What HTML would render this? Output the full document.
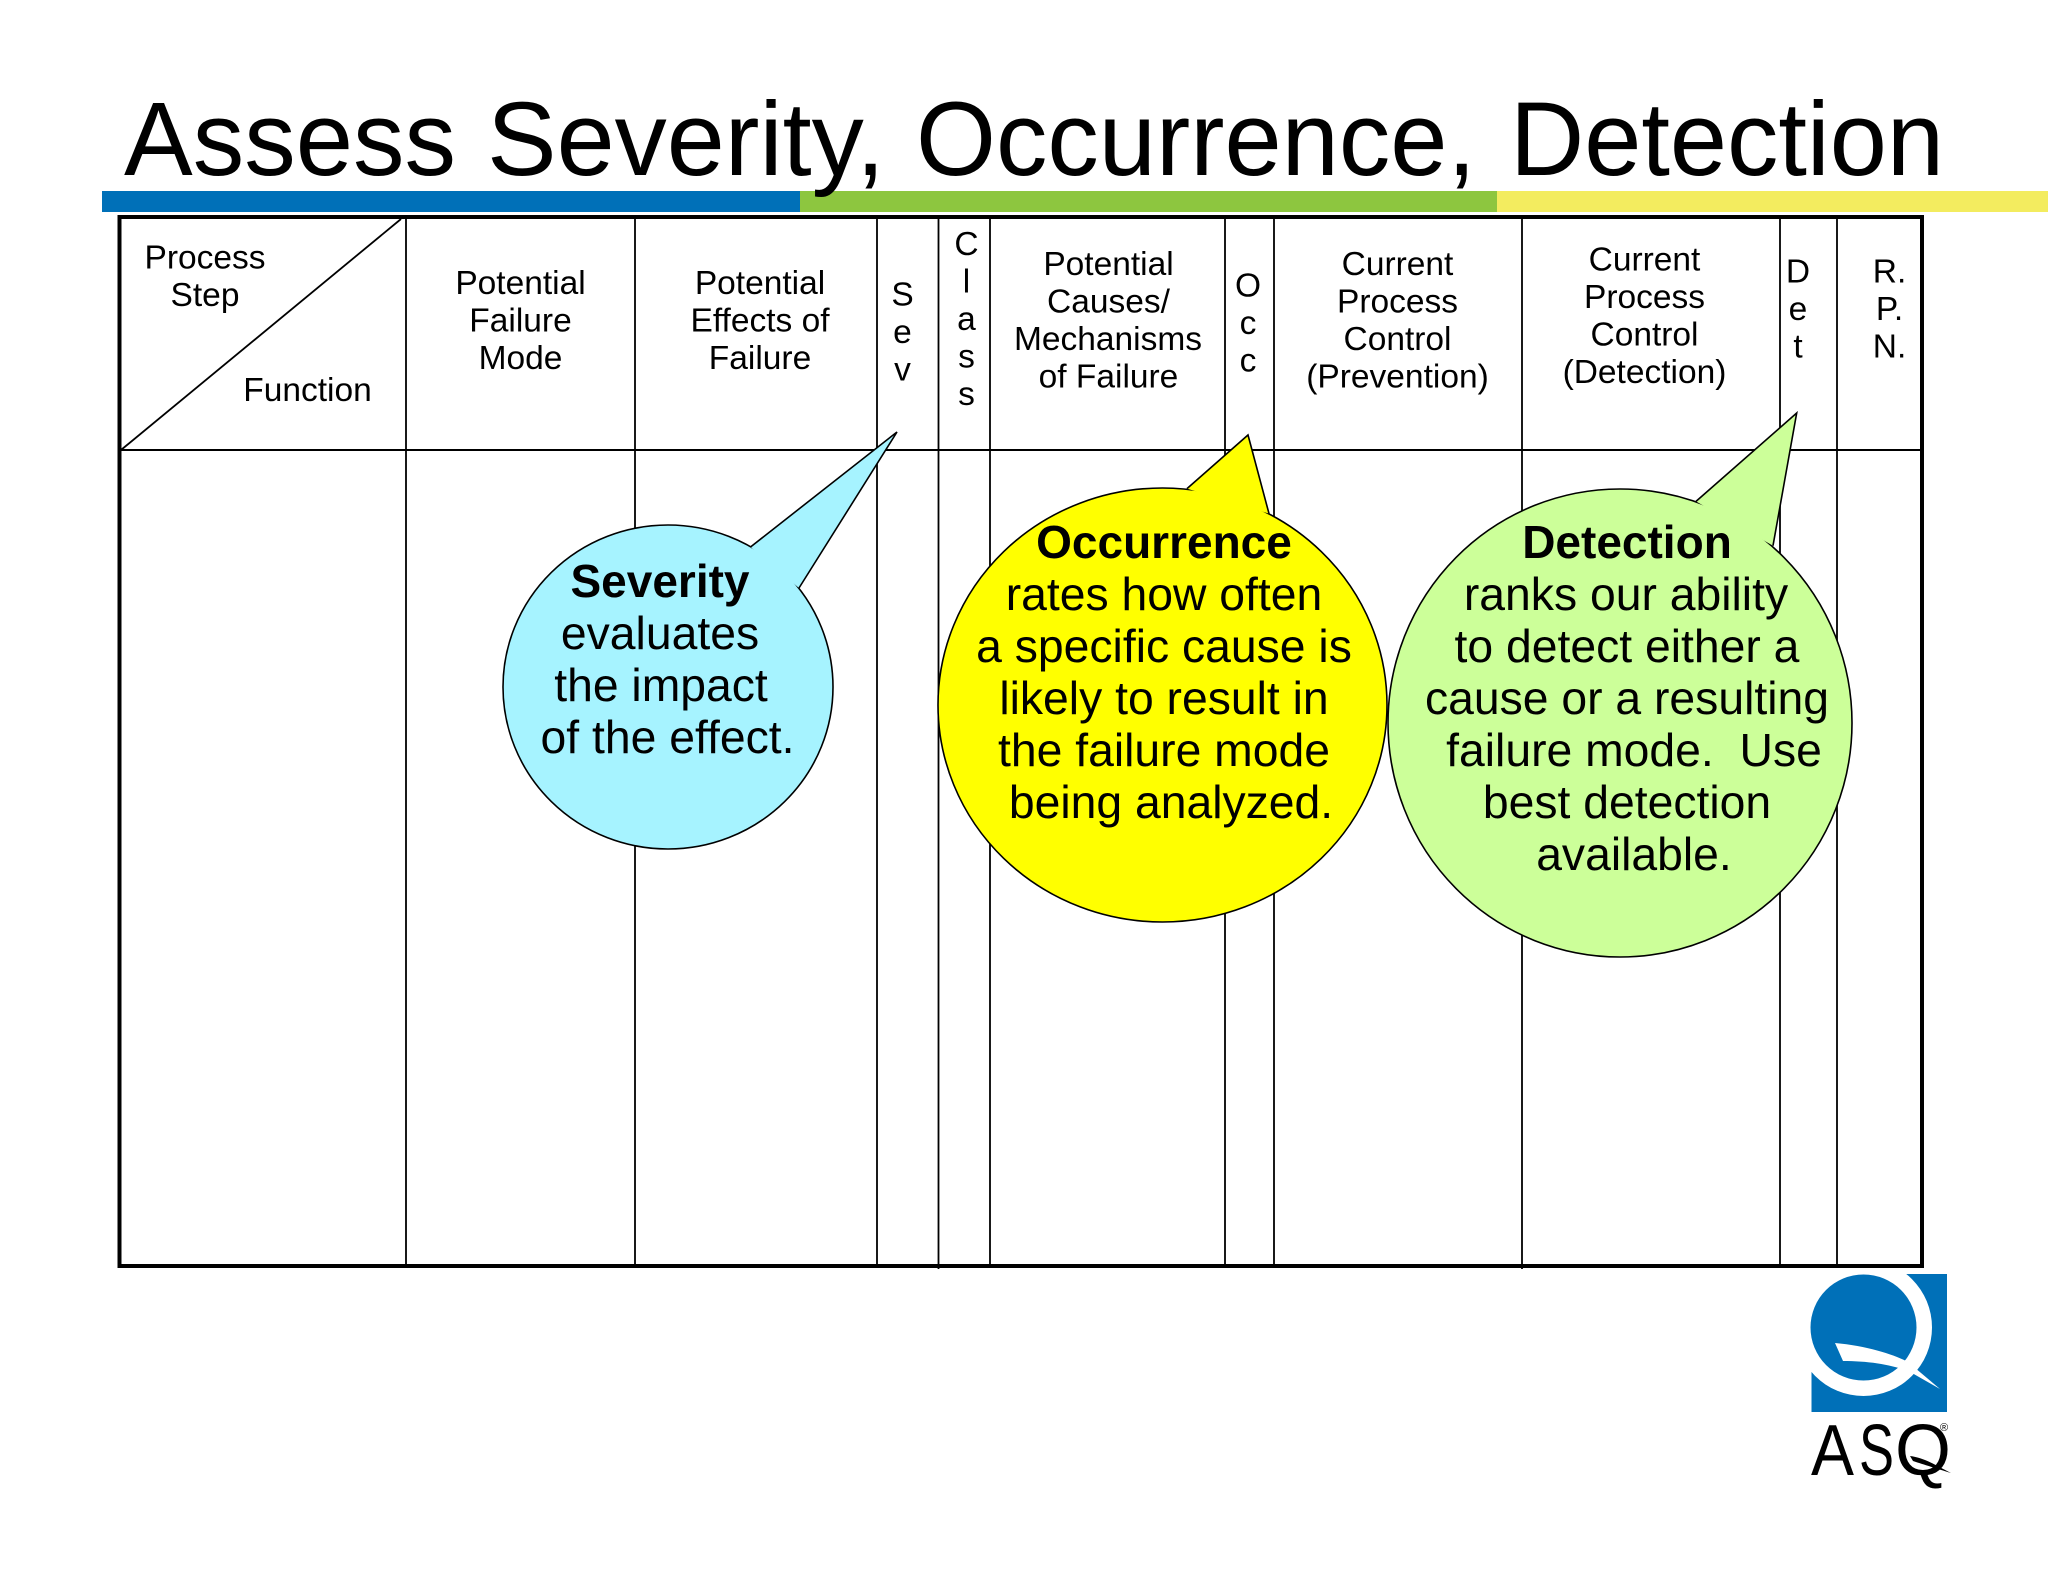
<!DOCTYPE html>
<html><head><meta charset="utf-8"><style>
html,body{margin:0;padding:0;background:#fff;width:2048px;height:1582px;overflow:hidden}
svg{display:block}
text{font-family:"Liberation Sans",sans-serif;fill:#000}
.h{font-size:33.5px;text-anchor:middle}
.c{font-size:46.3px;text-anchor:middle}
.b{font-weight:bold;font-size:46px}
</style></head><body>
<svg width="2048" height="1582" viewBox="0 0 2048 1582" xmlns="http://www.w3.org/2000/svg">
<rect x="102" y="191" width="698" height="21" fill="#0070b8"/>
<rect x="800" y="191" width="697" height="21" fill="#8dc63f"/>
<rect x="1497" y="191" width="551" height="21" fill="#f3ec5f"/>
<g font-size="105">
<text x="124" y="175" textLength="332" lengthAdjust="spacingAndGlyphs">Assess</text>
<text x="487" y="175" textLength="398" lengthAdjust="spacingAndGlyphs">Severity,</text>
<text x="916" y="175" textLength="560" lengthAdjust="spacingAndGlyphs">Occurrence,</text>
<text x="1510" y="175" textLength="434" lengthAdjust="spacingAndGlyphs">Detection</text>
</g>

<!-- logo sits under the table lines so the white ring cannot erase them -->
<rect x="1811.5" y="1274" width="135.5" height="138" fill="#0070b8"/>
<circle cx="1863.5" cy="1327.5" r="68.5" fill="#fff"/>
<rect x="1808" y="1272" width="56" height="56" fill="#fff"/>
<rect x="1808" y="1320" width="3.5" height="50" fill="#fff"/>
<circle cx="1863.5" cy="1327.5" r="53" fill="#0070b8"/>
<path d="M1835 1343C1868 1346 1895 1355 1908 1362L1940 1389L1912 1373C1895 1365 1870 1361 1843 1361Z" fill="#fff"/>
<text x="1811" y="1475" font-size="72" textLength="43" lengthAdjust="spacingAndGlyphs">A</text>
<text x="1859" y="1475" font-size="72" textLength="35" lengthAdjust="spacingAndGlyphs">S</text>
<text x="1895" y="1475" font-size="72" textLength="56" lengthAdjust="spacingAndGlyphs">Q</text>
<text x="1940" y="1431" font-size="11">®</text>
<path d="M1910 1456C1925 1458 1935 1465 1951 1473C1935 1468 1925 1465 1913 1461Z" fill="#000"/>

<g stroke="#000" fill="none">
<path stroke-width="1.8" d="M406 217V1265M635 217V1265M877 217V1265M938.5 217V1269M990 217V1265M1225 217V1265M1274 217V1265M1522 217V1269M1780 217V1265M1837 217V1265"/>
<path stroke-width="2" d="M120 450H1922"/>
<path stroke-width="1.8" d="M121 450L401 219"/>
<path stroke-width="4" d="M117.5 217H1924M119.5 215V1268M1922 215V1268M117.5 1266H1924"/>
</g>

<text class="h" x="205" y="268.5">Process</text>
<text class="h" x="205" y="306">Step</text>
<text class="h" x="307.5" y="401">Function</text>
<text class="h" x="520.5" y="294">Potential</text>
<text class="h" x="520.5" y="331.5">Failure</text>
<text class="h" x="520.5" y="369">Mode</text>
<text class="h" x="760" y="294">Potential</text>
<text class="h" x="760" y="331.5">Effects of</text>
<text class="h" x="760" y="369">Failure</text>
<text class="h" x="902.5" y="305.5">S</text>
<text class="h" x="902.5" y="343">e</text>
<text class="h" x="902.5" y="380.5">v</text>
<text class="h" x="966.5" y="255">C</text>
<text class="h" x="966.5" y="292.5">l</text>
<text class="h" x="966.5" y="330">a</text>
<text class="h" x="966.5" y="367.5">s</text>
<text class="h" x="966.5" y="405">s</text>
<text class="h" x="1108.5" y="275">Potential</text>
<text class="h" x="1108.5" y="312.5">Causes/</text>
<text class="h" x="1108" y="350">Mechanisms</text>
<text class="h" x="1108.5" y="387.5">of Failure</text>
<text class="h" x="1248" y="296.5">O</text>
<text class="h" x="1248" y="334">c</text>
<text class="h" x="1248" y="371.5">c</text>
<text class="h" x="1397.5" y="275">Current</text>
<text class="h" x="1397.5" y="312.5">Process</text>
<text class="h" x="1397.5" y="350">Control</text>
<text class="h" x="1397.5" y="387.5">(Prevention)</text>
<text class="h" x="1644.5" y="270.5">Current</text>
<text class="h" x="1644.5" y="308">Process</text>
<text class="h" x="1644.5" y="345.5">Control</text>
<text class="h" x="1644.5" y="383">(Detection)</text>
<text class="h" x="1798" y="282.5">D</text>
<text class="h" x="1798" y="320">e</text>
<text class="h" x="1798" y="357.5">t</text>
<text class="h" x="1889.5" y="282.5">R.</text>
<text class="h" x="1889.5" y="320">P.</text>
<text class="h" x="1889.5" y="357.5">N.</text>

<ellipse cx="668" cy="687" rx="165" ry="162" fill="#a6f3ff" stroke="#000" stroke-width="1.6"/>
<path d="M750.5 547L897 432L799 588Z" fill="#a6f3ff"/>
<path d="M750.5 547L897 432L799 588" fill="none" stroke="#000" stroke-width="1.6"/>

<ellipse cx="1162.5" cy="705" rx="224.5" ry="217" fill="#ffff00" stroke="#000" stroke-width="1.6"/>
<path d="M1187 488.6L1248 435L1269 513.6Z" fill="#ffff00"/>
<path d="M1187 488.6L1248 435L1269 513.6" fill="none" stroke="#000" stroke-width="1.6"/>

<ellipse cx="1620" cy="723" rx="232" ry="234" fill="#ccff99" stroke="#000" stroke-width="1.6"/>
<path d="M1696 501.4L1796.7 413L1773 545.7Z" fill="#ccff99"/>
<path d="M1696 501.4L1796.7 413L1773 545.7" fill="none" stroke="#000" stroke-width="1.6"/>

<text class="c b" x="660" y="597">Severity</text>
<text class="c" x="660" y="649">evaluates</text>
<text class="c" x="661" y="701">the impact</text>
<text class="c" x="667.5" y="753">of the effect.</text>

<text class="c b" x="1164" y="558">Occurrence</text>
<text class="c" x="1164" y="610">rates how often</text>
<text class="c" x="1164" y="662">a specific cause is</text>
<text class="c" x="1164" y="714">likely to result in</text>
<text class="c" x="1164" y="766">the failure mode</text>
<text class="c" x="1171" y="818">being analyzed.</text>

<text class="c b" x="1627" y="558">Detection</text>
<text class="c" x="1626" y="610">ranks our ability</text>
<text class="c" x="1627" y="662">to detect either a</text>
<text class="c" x="1627" y="714">cause or a resulting</text>
<text class="c" x="1634" y="766" xml:space="preserve">failure mode.  Use</text>
<text class="c" x="1627" y="818">best detection</text>
<text class="c" x="1634" y="870">available.</text>
</svg>
</body></html>
